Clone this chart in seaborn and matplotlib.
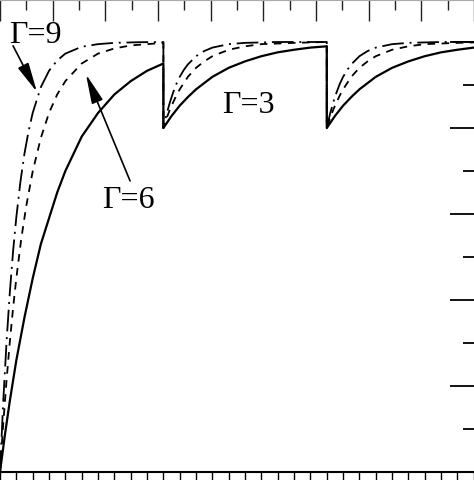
import matplotlib
matplotlib.use("Agg")
import numpy as np
import pandas as pd
import matplotlib.pyplot as plt
from matplotlib.ticker import MultipleLocator, FixedLocator
import seaborn as sns

sns.set_style("ticks")
plt.rcParams['font.family'] = ['Liberation Serif', 'DejaVu Serif']

# --- curves (t in periods, p = fraction) ---
# Gamma = 3 (solid)
t_g3 = [0, 0.03, 0.06, 0.1, 0.15, 0.2, 0.25, 0.3, 0.35, 0.4, 0.45, 0.5, 0.6, 0.7, 0.8, 0.9, 1.0,
        1.0, 1.05, 1.1, 1.15, 1.2, 1.3, 1.4, 1.5, 1.6, 1.7, 1.8, 1.9, 2.0,
        2.0, 2.05, 2.1, 2.15, 2.2, 2.3, 2.4, 2.5, 2.6, 2.7, 2.8, 2.9]
p_g3 = [0, 0.086, 0.165, 0.26, 0.36, 0.45, 0.53, 0.59, 0.65, 0.70, 0.74, 0.78, 0.835, 0.878, 0.909, 0.933, 0.95,
        0.80, 0.828, 0.852, 0.872, 0.89, 0.919, 0.94, 0.955, 0.967, 0.976, 0.982, 0.987, 0.99,
        0.80, 0.828, 0.852, 0.872, 0.89, 0.919, 0.94, 0.955, 0.967, 0.976, 0.982, 0.987]

# Gamma = 6 (dashed)
t_g6 = [0, 0.02, 0.04, 0.06, 0.08, 0.1, 0.13, 0.16, 0.2, 0.25, 0.3, 0.35, 0.4, 0.5, 0.6, 0.7, 0.8, 0.9, 1.0,
        1.0, 1.02, 1.04, 1.06, 1.08, 1.1, 1.15, 1.2, 1.25, 1.3, 1.4, 1.5, 1.6, 1.8, 2.0,
        2.0, 2.02, 2.04, 2.06, 2.08, 2.1, 2.15, 2.2, 2.25, 2.3, 2.4, 2.5, 2.6, 2.8, 2.9]
p_g6 = [0, 0.113, 0.213, 0.302, 0.381, 0.451, 0.542, 0.617, 0.699, 0.777, 0.835, 0.878, 0.909, 0.95, 0.973, 0.985, 0.992, 0.995, 0.998,
        0.80, 0.823, 0.843, 0.86, 0.876, 0.89, 0.919, 0.94, 0.955, 0.967, 0.982, 0.99, 0.995, 0.998, 1.0,
        0.80, 0.823, 0.843, 0.86, 0.876, 0.89, 0.919, 0.94, 0.955, 0.967, 0.982, 0.99, 0.995, 0.998, 0.999]

# Gamma = 9 (dash-dot)
t_g9 = [0, 0.02, 0.04, 0.06, 0.08, 0.1, 0.125, 0.15, 0.175, 0.2, 0.25, 0.3, 0.35, 0.4, 0.5, 0.6, 0.7, 0.85, 1.0,
        1.0, 1.02, 1.04, 1.06, 1.08, 1.1, 1.125, 1.15, 1.2, 1.25, 1.3, 1.4, 1.5, 1.7, 2.0,
        2.0, 2.02, 2.04, 2.06, 2.08, 2.1, 2.125, 2.15, 2.2, 2.25, 2.3, 2.4, 2.5, 2.7, 2.9]
p_g9 = [0, 0.165, 0.302, 0.417, 0.513, 0.593, 0.675, 0.741, 0.793, 0.835, 0.895, 0.933, 0.957, 0.973, 0.989, 0.995, 0.998, 0.9995, 1.0,
        0.80, 0.833, 0.86, 0.883, 0.903, 0.919, 0.935, 0.948, 0.967, 0.979, 0.987, 0.995, 0.998, 1.0, 1.0,
        0.80, 0.833, 0.86, 0.883, 0.903, 0.919, 0.935, 0.948, 0.967, 0.979, 0.987, 0.995, 0.998, 1.0, 1.0]

labels = ['Γ=9', 'Γ=6', 'Γ=3']

fig = plt.figure(figsize=(4.74, 4.81), dpi=100)
ax = fig.add_axes([0, 0.01663, 1, 0.98337])

sns.lineplot(x=t_g3, y=p_g3, ax=ax, color='black', lw=1.6, estimator=None, sort=False)
sns.lineplot(x=t_g6, y=p_g6, ax=ax, color='black', lw=1.3, linestyle=(0, (4.2, 3.6)),
             estimator=None, sort=False)
sns.lineplot(x=t_g9, y=p_g9, ax=ax, color='black', lw=1.3, linestyle=(0, (12, 3.2, 1.1, 3.2)),
             estimator=None, sort=False)

ax.set_xlim(0, 2.901)
ax.set_ylim(0, 1.1)

# labels + arrows
ax.text(0.058, 1.0, labels[0], fontsize=23, color='black', ha='left', va='baseline')
ax.text(0.625, 0.616, labels[1], fontsize=23, color='black', ha='left', va='baseline')
ax.text(1.358, 0.8365, labels[2], fontsize=23, color='black', ha='left', va='baseline')
arrow = dict(arrowstyle='-|>,head_length=0.9,head_width=0.18', color='black', lw=1.2,
             shrinkA=0, shrinkB=0, mutation_scale=20)
ax.annotate('', xy=(0.226, 0.884), xytext=(0.08, 0.991), arrowprops=arrow)
ax.annotate('', xy=(0.526, 0.925), xytext=(0.796, 0.677), arrowprops=arrow)

# ticks and spines of the main axes
for s in ['left', 'right', 'top']:
    ax.spines[s].set_visible(False)
ax.spines['bottom'].set_color('black')
ax.spines['bottom'].set_linewidth(1.5)
ax.xaxis.set_major_locator(MultipleLocator(0.1))
ax.tick_params(axis='x', which='major', direction='out', length=10, width=1, color='black',
               bottom=True, top=False, labelbottom=False)
ax.yaxis.tick_right()
ax.yaxis.set_major_locator(MultipleLocator(0.2))
ax.yaxis.set_minor_locator(FixedLocator(np.arange(0.1, 1.0, 0.2)))
ax.tick_params(axis='y', which='major', direction='in', length=17, width=1.3, color='black',
               right=True, left=False, labelright=False, labelleft=False)
ax.tick_params(axis='y', which='minor', direction='in', length=8, width=1.3, color='black',
               right=True, left=False)
ax.set_xlabel('')
ax.set_ylabel('')

# top scale
ax_top = ax.twiny()
ax_top.set_xlim(0, 9)
ax_top.xaxis.set_major_locator(MultipleLocator(1))
ax_top.xaxis.set_minor_locator(MultipleLocator(0.5))
ax_top.tick_params(axis='x', which='major', direction='in', length=16, width=1, color='#222222',
                   top=True, bottom=False, labeltop=False)
ax_top.tick_params(axis='x', which='minor', direction='in', length=8, width=1, color='#222222',
                   top=True, bottom=False)
for s in ['left', 'right', 'bottom']:
    ax_top.spines[s].set_visible(False)
ax_top.spines['top'].set_color('#aaaaaa')
ax_top.spines['top'].set_linewidth(3)

fig.savefig('out.png', dpi=100)
